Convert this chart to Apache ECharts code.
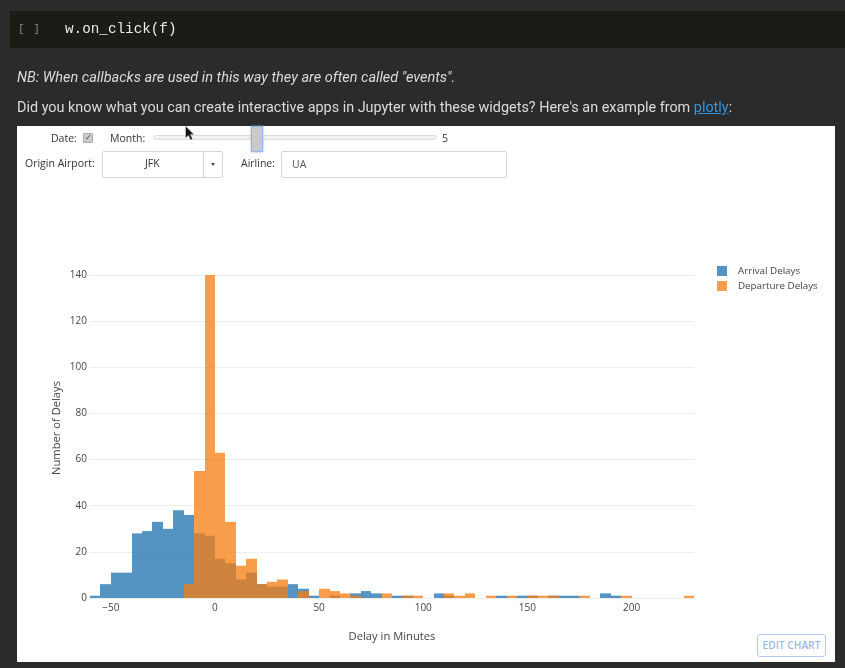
<!DOCTYPE html>
<html>
<head>
<meta charset="utf-8">
<script src="https://cdn.jsdelivr.net/npm/echarts@6/dist/echarts.min.js"></script>
<style>
html,body{margin:0;padding:0;width:845px;height:668px;background:#2b2b2b;overflow:hidden;font-family:Roboto,sans-serif}
#page{position:absolute;left:0;top:0;width:845px;height:668px;filter:blur(0.35px)}
.a{position:absolute;white-space:nowrap}
.w{font-family:"Open Sans",sans-serif;font-size:10.5px;color:#333}
#chart{position:absolute;left:0;top:0;width:845px;height:668px}
</style>
</head>
<body>
<div id="page">
<div class="a" style="left:10px;top:11px;width:835px;height:37px;background:#1c1c16"></div>
<div class="a" style="left:18px;top:23px;font:11px 'Liberation Mono',monospace;color:#8a8a8a;letter-spacing:1px">[ ]</div>
<div class="a" style="left:65px;top:21px;font:14.3px 'Liberation Mono',monospace;color:#ecece6">w.on_click(f)</div>
<div class="a" style="left:17px;top:69px;font:italic 14.5px Roboto,sans-serif;color:#dcdcdc">NB: When callbacks are used in this way they are often called "events".</div>
<div class="a" style="left:17px;top:99px;font:14.4px Roboto,sans-serif;color:#dcdcdc">Did you know what you can create interactive apps in Jupyter with these widgets? Here's an example from <span style="color:#2f96e8;text-decoration:underline">plotly</span>:</div>
<div class="a" style="left:17px;top:126px;width:818px;height:536px;background:#fff"></div>
<div id="chart"></div>
<div class="a w" style="left:51px;top:131px">Date:</div>
<div class="a" style="left:83px;top:133px;width:8px;height:8px;background:#ccc;border:1px solid #aaa;border-radius:1px;font:8px sans-serif;line-height:8px;color:#444;text-align:center">✓</div>
<div class="a w" style="left:110px;top:131px">Month:</div>
<div class="a" style="left:153px;top:135px;width:282px;height:3px;background:#f2f2f2;border:1px solid #ddd;border-radius:3px"></div>
<div class="a" style="left:251px;top:126px;width:10px;height:24px;background:#c9c9c9;border:1px solid #8db8f0;box-shadow:0 0 2px #7fb0f5"></div>
<div class="a w" style="left:442px;top:131px">5</div>
<div class="a w" style="left:25px;top:156px">Origin Airport:</div>
<div class="a" style="left:102px;top:151px;width:119px;height:25px;border:1px solid #d4d4d4;border-radius:2px;background:#fff"></div>
<div class="a" style="left:203px;top:151px;width:1px;height:26px;background:#d4d4d4"></div>
<div class="a w" style="left:145px;top:156px">JFK</div>
<div class="a" style="left:211px;top:163px;width:0;height:0;border-left:2.5px solid transparent;border-right:2.5px solid transparent;border-top:3px solid #444"></div>
<div class="a w" style="left:241px;top:156px">Airline:</div>
<div class="a" style="left:281px;top:151px;width:224px;height:25px;border:1px solid #d4d4d4;border-radius:2px;background:#fff"></div>
<div class="a w" style="left:292px;top:157px;color:#555">UA</div>
<svg class="a" style="left:184px;top:125px" width="12" height="18" viewBox="0 0 12 18"><path d="M1.5 1 L1.5 13 L4.5 10.5 L6.5 15 L8.5 14 L6.5 9.5 L10 9.5 Z" fill="#111" stroke="#ddd" stroke-width=".5"/></svg>
<div class="a" style="left:757px;top:634px;width:67px;height:21px;border:1px solid #b4c9f0;border-radius:3px;font:600 10.2px 'Open Sans',sans-serif;line-height:21px;text-align:center;color:#9db6e6;background:#fff">EDIT CHART</div>
</div>
<script>
var binStarts = [-60,-55,-50,-45,-40,-35,-30,-25,-20,-15,-10,-5,0,5,10,15,20,25,30,35,40,45,50,55,60,65,70,75,80,85,90,95,100,105,110,115,120,125,130,135,140,145,150,155,160,165,170,175,180,185,190,195,200,205,210,215,220,225];
var arrivalCounts = [1,6,11,11,28,29,33,30,38,36,28,27,17,15,8,11,6,5,5,6,4,1,0,1,0,2,3,2,0,1,1,0,0,2,1,0,0,0,0,1,0,1,1,0,1,1,1,0,0,2,1,0,0,0,0,0,0,0];
var departureCounts = [0,0,0,0,0,0,0,0,0,6,55,140,63,33,14,17,6,7,8,0,3,0,4,3,2,1,0,0,2,0,1,1,0,0,2,1,2,0,1,0,1,0,1,1,1,0,0,1,0,0,0,1,0,0,0,0,0,1];
var binWidth = 5;
var xTickValues = [-50,0,50,100,150,200];
var seriesNames = ['Arrival Delays','Departure Delays'];

function renderBin(params, api){
  var x0 = api.value(0), v = api.value(1);
  var a = api.coord([x0, v]), b = api.coord([x0 + binWidth, 0]);
  var left = Math.round(a[0]), right = Math.round(b[0]);
  return {
    type:'rect',
    shape:{x:left, y:a[1], width:right-left, height:b[1]-a[1]},
    style:{fill:api.visual('color'), opacity:0.75}
  };
}
function rows(counts){
  return binStarts.map(function(b,i){return [b,counts[i]];}).filter(function(r){return r[1]>0;});
}
var chart = echarts.init(document.getElementById('chart'),null,{renderer:'canvas'});
var labelFont = {fontFamily:'"Open Sans",sans-serif',fontSize:10,color:'#444'};
var titleFont = {fontFamily:'"Open Sans",sans-serif',fontSize:11.2,color:'#444'};
chart.setOption({
  animation:false,
  backgroundColor:'transparent',
  grid:{left:90,top:275,width:604,height:323,containLabel:false},
  legend:{
    left:712,top:261,orient:'vertical',itemWidth:10,itemHeight:10,itemGap:5,icon:'rect',
    data:seriesNames,
    textStyle:{fontFamily:'"Open Sans",sans-serif',fontSize:9.8,color:'#444',padding:[0,0,0,6]}
  },
  xAxis:{
    type:'value',min:-60,max:230,
    name:'Delay in Minutes',nameLocation:'middle',nameGap:33,nameMoveOverlap:false,
    nameTextStyle:titleFont,
    axisLine:{show:false},axisTick:{show:false},splitLine:{show:false},
    axisLabel:Object.assign({customValues:xTickValues,margin:5,formatter:function(v){return String(v).replace('-','\u2212');}},labelFont)
  },
  yAxis:{
    type:'value',min:0,max:140,interval:20,
    name:'Number of Delays',nameLocation:'middle',nameGap:28,nameMoveOverlap:false,
    nameTextStyle:Object.assign({padding:[0,0,0,17]},titleFont),
    axisLine:{show:false},axisTick:{show:false},
    splitLine:{show:true,lineStyle:{color:'#eeeeee',width:1}},
    axisLabel:Object.assign({margin:3,padding:[2,0,0,0]},labelFont)
  },
  series:[
    {name:seriesNames[0],type:'custom',renderItem:renderBin,encode:{x:0,y:1},itemStyle:{color:'#1b6fae',opacity:0.75},data:rows(arrivalCounts)},
    {name:seriesNames[1],type:'custom',renderItem:renderBin,encode:{x:0,y:1},itemStyle:{color:'#f57c10',opacity:0.75},data:rows(departureCounts)}
  ]
});
</script>
</body>
</html>
